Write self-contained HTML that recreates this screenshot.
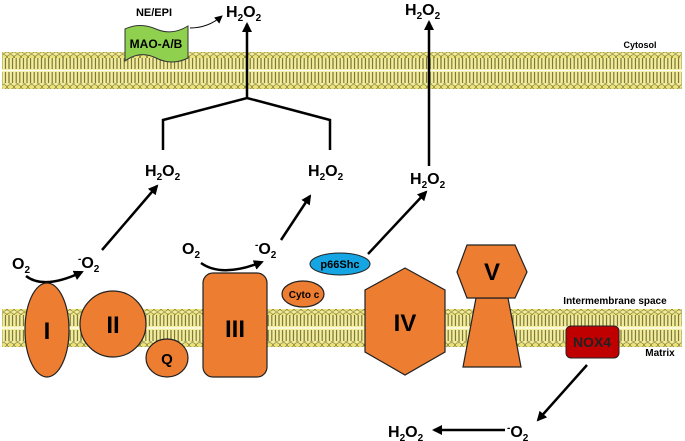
<!DOCTYPE html>
<html><head><meta charset="utf-8"><style>
html,body{margin:0;padding:0;background:#fff}
svg{display:block;font-family:"Liberation Sans",Arial,sans-serif;font-weight:bold}
</style></head><body>
<svg width="685" height="441" viewBox="0 0 685 441" xmlns="http://www.w3.org/2000/svg">
<defs>
<pattern id="tails" width="3.6" height="40" patternUnits="userSpaceOnUse">
<rect width="3.6" height="40" fill="#f3ee9e"/>
<line x1="1.8" y1="0" x2="1.8" y2="40" stroke="#6f6a2e" stroke-width="1.1"/>
</pattern>
<pattern id="heads" width="7" height="6" patternUnits="userSpaceOnUse">
<rect width="7" height="6" fill="#f3ee9e"/>
<ellipse cx="3.5" cy="3" rx="3.2" ry="2.3" fill="#ece27a" stroke="#7f7a36" stroke-width="0.7"/>
</pattern>
<marker id="ah" markerWidth="10" markerHeight="10" refX="8" refY="5" orient="auto" markerUnits="userSpaceOnUse">
<path d="M0,0 L10,5 L0,10 z" fill="#000"/>
</marker>
<marker id="ahs" markerWidth="8" markerHeight="8" refX="7" refY="4" orient="auto" markerUnits="userSpaceOnUse">
<path d="M0,0 L8,4 L0,8 z" fill="#000"/>
</marker>
</defs>

<g>
<rect x="2" y="52" width="680" height="37" fill="url(#tails)"/>
<rect x="2" y="52" width="680" height="6" rx="3" fill="url(#heads)"/>
<rect x="2" y="69" width="680" height="3" fill="#f3ee9e"/>
<line x1="2" y1="70.5" x2="682" y2="70.5" stroke="#ffffff" stroke-width="1.2"/>
<rect x="2" y="83" width="680" height="6" rx="3" fill="url(#heads)"/>
</g>
<g>
<rect x="2" y="309" width="680" height="38" fill="url(#tails)"/>
<rect x="2" y="309" width="680" height="6" rx="3" fill="url(#heads)"/>
<rect x="2" y="326" width="680" height="4" fill="#f3ee9e"/>
<line x1="2" y1="328" x2="682" y2="328" stroke="#ffffff" stroke-width="1.2"/>
<rect x="2" y="341" width="680" height="6" rx="3" fill="url(#heads)"/>
</g>

<text x="640" y="48" font-size="9" text-anchor="middle">Cytosol</text>
<text x="615" y="304" font-size="10" text-anchor="middle">Intermembrane space</text>
<text x="660" y="356" font-size="10" text-anchor="middle">Matrix</text>

<path d="M125,29 Q140,22 156,29 T188,26 L188,58 Q172,66 156,58 T125,61 Z" fill="#8fd14f" stroke="#333" stroke-width="1"/>
<text x="156" y="48" font-size="12" text-anchor="middle">MAO-A/B</text>
<text x="154" y="16" font-size="11" text-anchor="middle">NE/EPI</text>
<path d="M190,28 Q208,28 222,16" fill="none" stroke="#000" stroke-width="1" marker-end="url(#ahs)"/>

<text x="226" y="17" font-size="16">H<tspan font-size="10" dy="4">2</tspan><tspan dy="-4">O</tspan><tspan font-size="10" dy="4">2</tspan></text>
<text x="405" y="15" font-size="16">H<tspan font-size="10" dy="4">2</tspan><tspan dy="-4">O</tspan><tspan font-size="10" dy="4">2</tspan></text>
<line x1="247" y1="98" x2="247" y2="24" stroke="#000" stroke-width="2.5" marker-end="url(#ah)"/>
<polyline points="163,150 163,120 247,98 330,120 330,150" fill="none" stroke="#000" stroke-width="2.5"/>
<line x1="429" y1="166" x2="429" y2="22" stroke="#000" stroke-width="2.5" marker-end="url(#ah)"/>

<text x="145" y="176" font-size="16">H<tspan font-size="10" dy="4">2</tspan><tspan dy="-4">O</tspan><tspan font-size="10" dy="4">2</tspan></text>
<text x="308" y="176" font-size="16">H<tspan font-size="10" dy="4">2</tspan><tspan dy="-4">O</tspan><tspan font-size="10" dy="4">2</tspan></text>
<text x="410" y="184" font-size="16">H<tspan font-size="10" dy="4">2</tspan><tspan dy="-4">O</tspan><tspan font-size="10" dy="4">2</tspan></text>

<line x1="102" y1="250" x2="157" y2="186" stroke="#000" stroke-width="2.5" marker-end="url(#ah)"/>
<line x1="281" y1="240" x2="310" y2="196" stroke="#000" stroke-width="2.5" marker-end="url(#ah)"/>
<line x1="368" y1="254" x2="426" y2="192" stroke="#000" stroke-width="2.5" marker-end="url(#ah)"/>

<text x="12" y="269" font-size="16">O<tspan font-size="10" dy="4">2</tspan></text>
<text x="78" y="268" font-size="16"><tspan font-size="10" dy="-6">-</tspan><tspan dy="6">O</tspan><tspan font-size="10" dy="4">2</tspan></text>
<path d="M26,276 Q44,290 82,272" fill="none" stroke="#000" stroke-width="2.5" marker-end="url(#ah)"/>
<text x="182" y="254" font-size="16">O<tspan font-size="10" dy="4">2</tspan></text>
<text x="255" y="254" font-size="16"><tspan font-size="10" dy="-6">-</tspan><tspan dy="6">O</tspan><tspan font-size="10" dy="4">2</tspan></text>
<path d="M201,263 Q222,278 262,262" fill="none" stroke="#000" stroke-width="2.5" marker-end="url(#ah)"/>

<g stroke="#222" stroke-width="1.2" fill="#ed7d31">
<ellipse cx="47" cy="330" rx="22" ry="47"/>
<circle cx="113" cy="324" r="33"/>
<ellipse cx="167" cy="358" rx="21" ry="19"/>
<rect x="203" y="273" width="64" height="104" rx="10"/>
<ellipse cx="303" cy="294" rx="21" ry="13"/>
<polygon points="405,268 445,290 445,352 405,375 365,352 365,290"/>
<polygon points="476,298 508,298 521,367 463,367"/>
<polygon points="467,245 515,245 527,272 515,298 467,298 457,272"/>
</g>
<ellipse cx="340" cy="264" rx="30" ry="11" fill="#14a5e2" stroke="#222" stroke-width="1"/>
<rect x="566" y="326" width="53" height="32" rx="5" fill="#c00000" stroke="#222" stroke-width="1"/>

<text x="47" y="339" font-size="24" text-anchor="middle">I</text>
<text x="113" y="333" font-size="24" text-anchor="middle">II</text>
<text x="167" y="364" font-size="15" text-anchor="middle">Q</text>
<text x="235" y="337" font-size="24" text-anchor="middle">III</text>
<text x="304" y="298" font-size="10" text-anchor="middle">Cyto c</text>
<text x="340" y="268" font-size="11" text-anchor="middle">p66Shc</text>
<text x="405" y="331" font-size="24" text-anchor="middle">IV</text>
<text x="492" y="280" font-size="24" text-anchor="middle">V</text>
<text x="592" y="347" font-size="14" text-anchor="middle" fill="#222">NOX4</text>

<line x1="587" y1="365" x2="538" y2="420" stroke="#000" stroke-width="2.5" marker-end="url(#ah)"/>
<text x="507" y="437" font-size="16"><tspan font-size="10" dy="-6">-</tspan><tspan dy="6">O</tspan><tspan font-size="10" dy="4">2</tspan></text>
<line x1="505" y1="430" x2="434" y2="430" stroke="#000" stroke-width="2.5" marker-end="url(#ah)"/>
<text x="388" y="437" font-size="16">H<tspan font-size="10" dy="4">2</tspan><tspan dy="-4">O</tspan><tspan font-size="10" dy="4">2</tspan></text>
</svg>
</body></html>
